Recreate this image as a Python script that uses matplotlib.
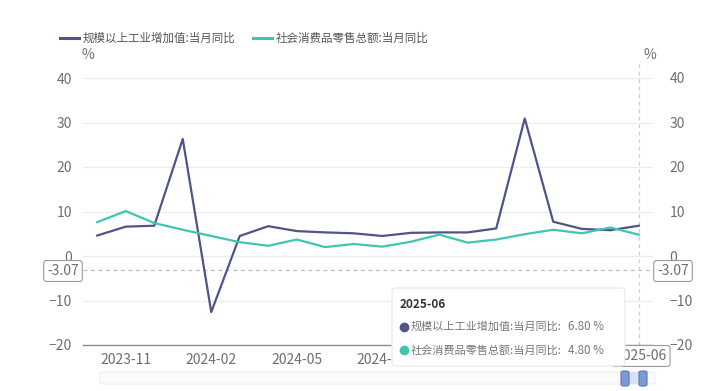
import numpy as np
import matplotlib
matplotlib.use("Agg")
import matplotlib.pyplot as plt
from matplotlib.patches import FancyBboxPatch, Rectangle
from matplotlib.lines import Line2D

plt.rcParams['font.family'] = ['Noto Sans CJK SC', 'DejaVu Sans']

# data
months = ['2023-10', '2023-11', '2023-12', '2024-01', '2024-02', '2024-03', '2024-04',
          '2024-05', '2024-06', '2024-07', '2024-08', '2024-09', '2024-10', '2024-11',
          '2024-12', '2025-01', '2025-03', '2025-04', '2025-05', '2025-06']
industry = [4.6, 6.6, 6.8, 26.3, -12.6, 4.5, 6.7, 5.6, 5.3, 5.1, 4.5, 5.2, 5.3, 5.3,
            6.2, 30.9, 7.7, 6.1, 5.8, 6.8]
retail = [7.6, 10.1, 7.4, 5.9, 4.5, 3.1, 2.3, 3.7, 2.0, 2.7, 2.1, 3.2, 4.8, 3.0,
          3.7, 4.9, 5.9, 5.1, 6.4, 4.8]
name1 = '规模以上工业增加值:当月同比'
name2 = '社会消费品零售总额:当月同比'
pointer_y = -3.07
yticks = [-20, -10, 0, 10, 20, 30, 40]

c1 = '#4f5489'
c2 = '#3fc6ae'
grey = '#6e6e6e'

W, H = 720, 391
fig = plt.figure(figsize=(7.2, 3.91), dpi=100)
fig.patch.set_facecolor('white')

def fx(px):
    return px / W

def fy(py):
    return 1 - py / H

ax = fig.add_axes([fx(83), fy(345), fx(653) - fx(83), fy(78) - fy(345)])
x = np.arange(len(months))
ax.plot(x, industry, color=c1, lw=1.6, zorder=3)
ax.plot(x, retail, color=c2, lw=1.6, zorder=3)
ax.set_xlim(-0.5, len(months) - 0.5)
ax.set_ylim(-20, 40)
ax.set_yticks(yticks)
ax.grid(axis='y', color='#ececec', lw=0.9)
ax.set_axisbelow(True)
for s in ['top', 'right', 'left']:
    ax.spines[s].set_visible(False)
ax.spines['bottom'].set_color('#8c8c8c')
ax.spines['bottom'].set_linewidth(1.0)
ax.tick_params(axis='y', length=0, labelsize=10, labelcolor=grey, pad=8)
ax.set_xticks(x)
ax.set_xticklabels([m if i % 3 == 1 and i < len(months) - 1 else ''
                    for i, m in enumerate(months)])
ax.tick_params(axis='x', length=0, labelsize=10, labelcolor=grey, pad=6)

ax2 = ax.twinx()
ax2.set_ylim(-20, 40)
ax2.set_yticks(yticks)
for s in ['top', 'right', 'left', 'bottom']:
    ax2.spines[s].set_visible(False)
ax2.tick_params(axis='y', length=0, labelsize=10, labelcolor=grey, pad=12)

# axis pointers
ax.axhline(pointer_y, color='#bdbdbd', lw=0.9, ls=(0, (3, 3)), zorder=2)
ax.plot([x[-1], x[-1]], [-20, 44], color='#cfcfcf', lw=0.9, ls=(0, (3, 3)),
        clip_on=False, zorder=2)
box = dict(boxstyle='round,pad=0.25,rounding_size=0.2', fc='white', ec='#9a9a9a', lw=0.8)
fig.text(fx(63), fy(271), '%.2f' % pointer_y, ha='center', va='center',
         fontsize=10, color=grey, bbox=box)
fig.text(fx(673), fy(271), '%.2f' % pointer_y, ha='center', va='center',
         fontsize=10, color=grey, bbox=box)
fig.text(fx(641), fy(356), months[-1], ha='center', va='center',
         fontsize=10, color=grey, bbox=box, zorder=1)

# units
fig.text(fx(88), fy(55), '%', ha='center', va='center', fontsize=10, color=grey)
fig.text(fx(650), fy(55), '%', ha='center', va='center', fontsize=10, color=grey)

# legend
for lx, name, c in [(60, name1, c1), (253, name2, c2)]:
    fig.add_artist(Line2D([fx(lx), fx(lx + 19)], [fy(38), fy(38)], color=c, lw=2.2))
    fig.text(fx(lx + 23), fy(38), name, ha='left', va='center', fontsize=8.3, color='#555555')

# slider
fig.add_artist(FancyBboxPatch((fx(100), fy(384)), fx(655) - fx(100), fy(372) - fy(384),
                              boxstyle='round,pad=0,rounding_size=0.005',
                              fc='#fafbfd', ec='#eaedf3', lw=0.8))
fig.add_artist(Rectangle((fx(625), fy(384)), fx(643) - fx(625), fy(372) - fy(384),
                         fc='#d7e1f5', ec='none'))
for hx in (621, 639):
    fig.add_artist(FancyBboxPatch((fx(hx), fy(386)), fx(8), fy(371) - fy(386),
                                  boxstyle='round,pad=0,rounding_size=0.004',
                                  fc='#7e9ad6', ec='#5a74b8', lw=0.8))

# tooltip
tip = FancyBboxPatch((fx(392), fy(366)), fx(625) - fx(392), fy(288) - fy(366),
                     boxstyle='round,pad=0,rounding_size=0.006',
                     fc='white', ec='#e6e6e6', lw=0.8, zorder=10)
fig.add_artist(tip)
fig.text(fx(400), fy(305), months[-1], ha='left', va='center', fontsize=8.5,
         fontweight='bold', color='#333333', zorder=11)
for ry, name, c, v in [(327, name1, c1, industry[-1]), (350, name2, c2, retail[-1])]:
    fig.add_artist(Line2D([fx(404)], [fy(ry)], marker='o', ms=6, color=c, zorder=11))
    fig.text(fx(411), fy(ry), name + ':', ha='left', va='center', fontsize=8,
             color='#777777', zorder=11)
    fig.text(fx(604), fy(ry), '%.2f %%' % v, ha='right', va='center', fontsize=8.3,
             color='#777777', zorder=11)

fig.savefig('out.png', dpi=100, facecolor='white')
